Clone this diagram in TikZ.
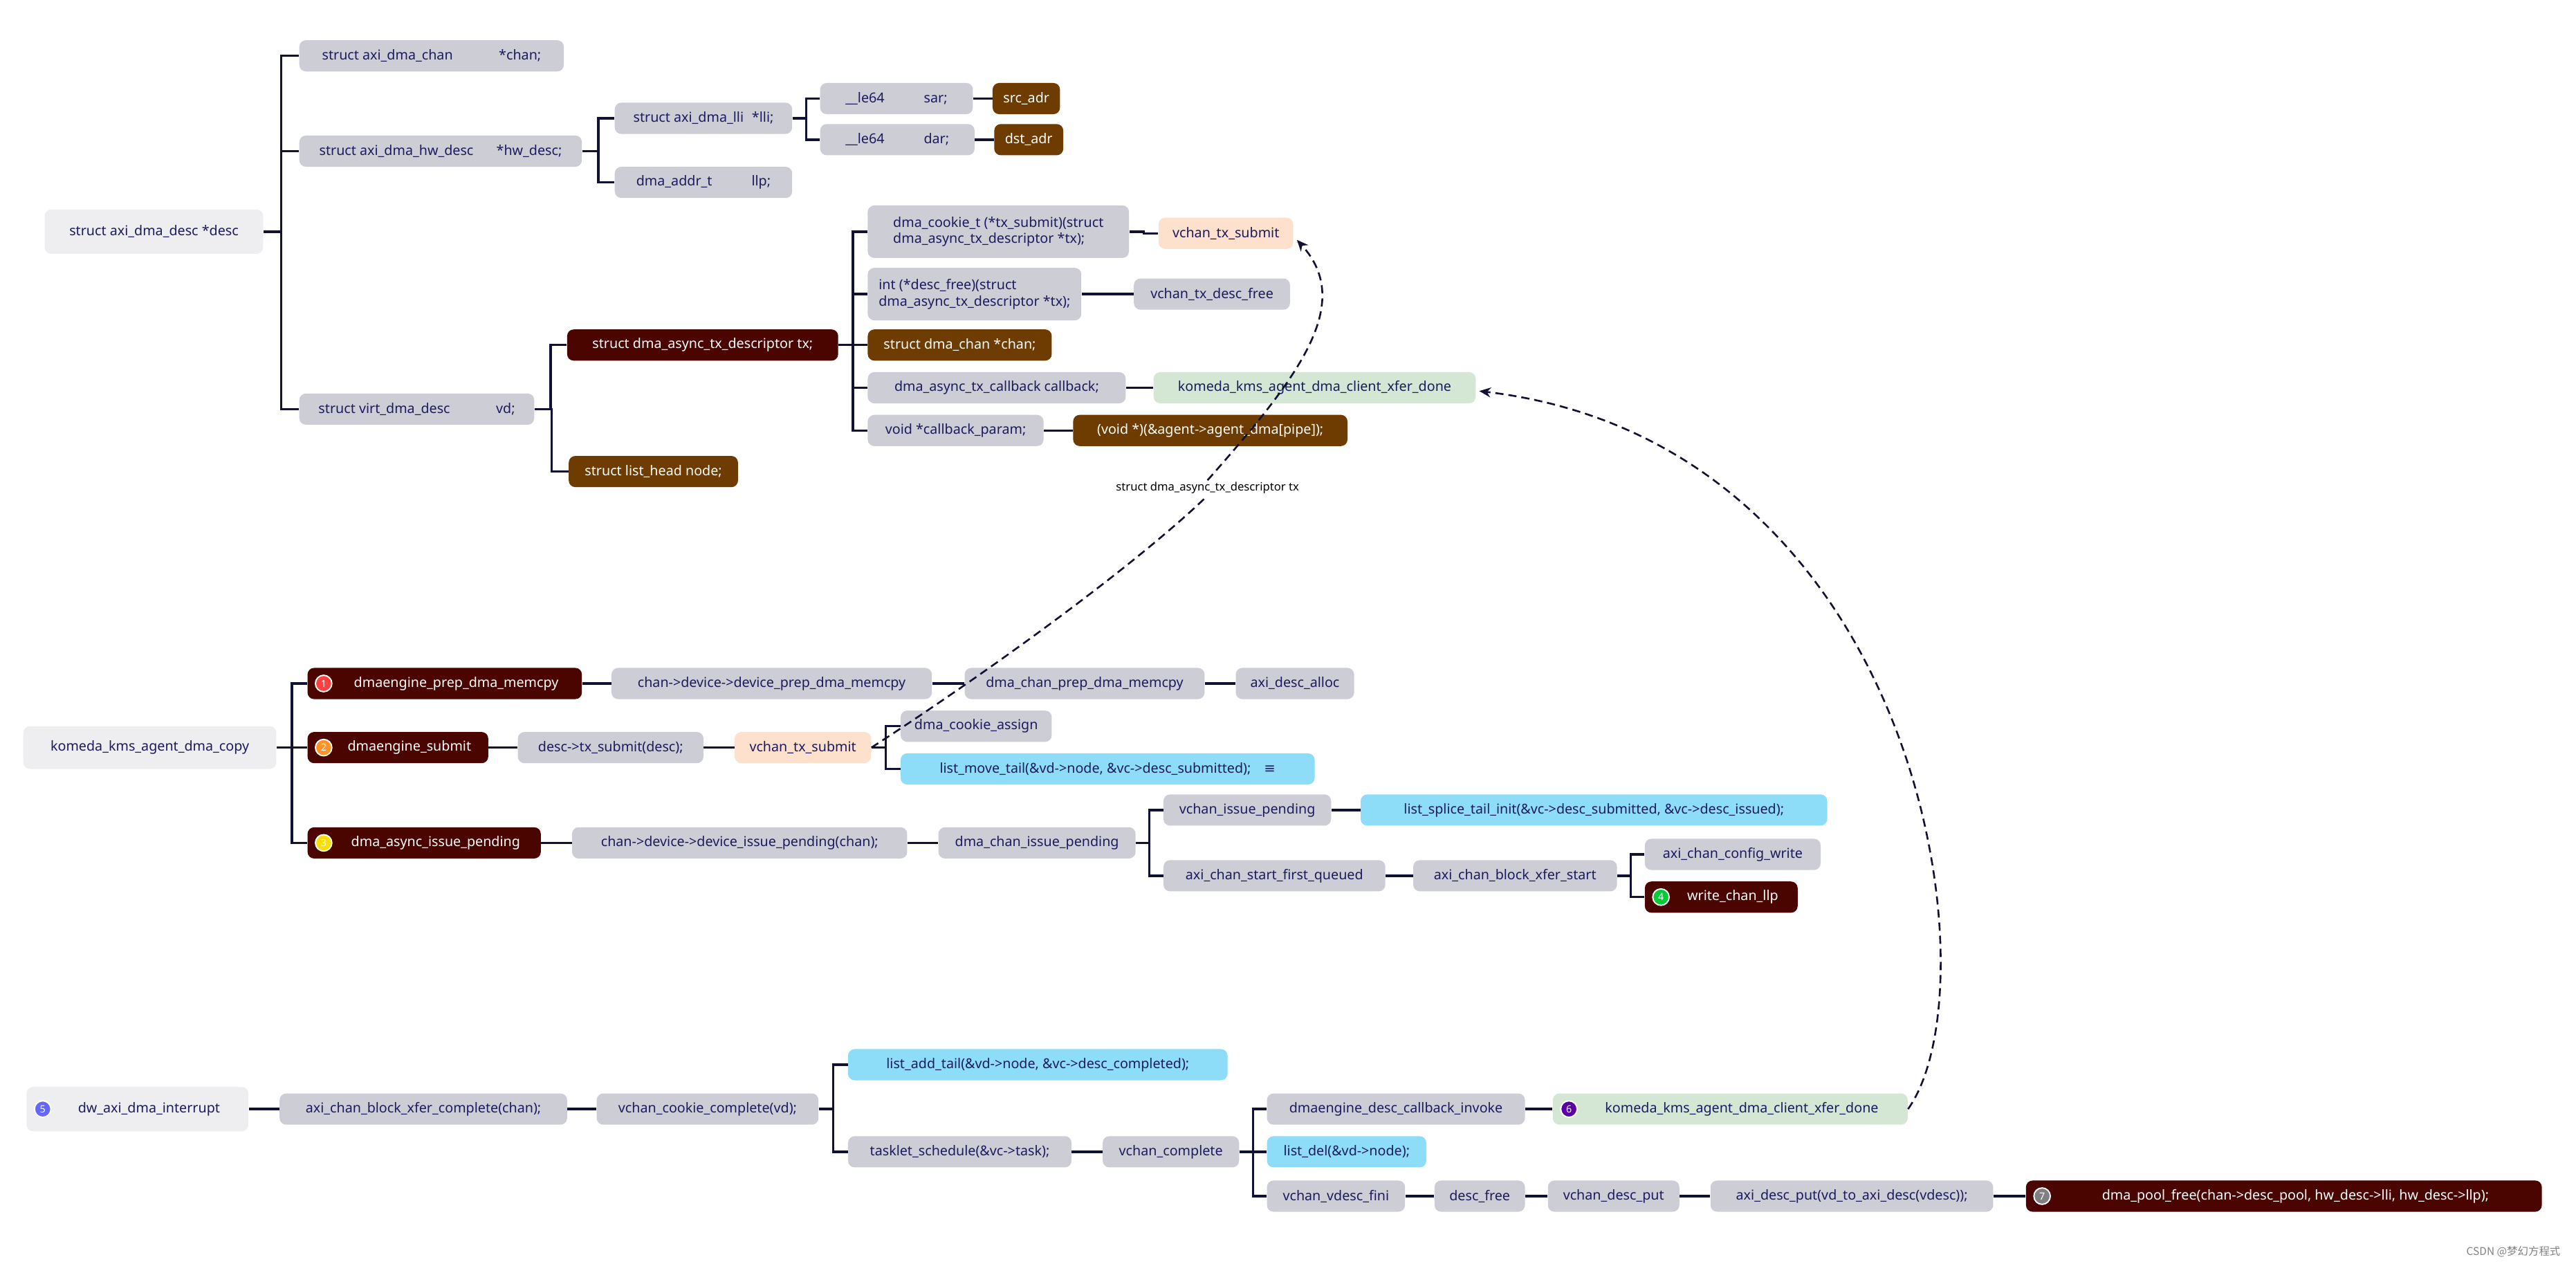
\documentclass[tikz,border=0pt]{standalone}
\usepackage{fontspec}
\setmainfont{Noto Sans}
\newfontfamily\cjkf{Noto Sans CJK SC}
\newfontfamily\djf{DejaVu Sans}
\usetikzlibrary{calc,arrows.meta}
\definecolor{txt}{HTML}{1B1B5E}
\definecolor{lnc}{HTML}{111133}
\definecolor{grayb}{HTML}{CDCDD6}
\definecolor{lightb}{HTML}{EEEDF0}
\definecolor{maroon}{HTML}{4A0500}
\definecolor{brownb}{HTML}{6E3B00}
\definecolor{peach}{HTML}{FEE1CC}
\definecolor{greenb}{HTML}{D3E7D4}
\definecolor{blueb}{HTML}{8DDDF8}
\newcommand\fs{\fontsize{8.3}{10}\selectfont}
\newcommand\tr[2]{\draw[ln] (#1.east) -- ($(#1.east)!.5!(#1.east-|#2.west)$) |- (#2.west);}
\newcommand\cn[3]{\node[circle,fill=#2,draw=white,line width=0.8,inner sep=0,minimum size=10,text=white,font=\fontsize{6}{6}\selectfont\bfseries] at ($(#1.west)+(10,0)$) {#3};}
\begin{document}
\begin{tikzpicture}[x=1pt,y=-1pt,
 base/.style={rounded corners=4,inner xsep=4,inner ysep=2,minimum height=19,anchor=west,font=\fs,text=txt},
 g/.style={base,fill=grayb},
 lt/.style={base,fill=lightb,minimum height=27},
 mr/.style={base,fill=maroon,text=white},
 br/.style={base,fill=brownb,text=white},
 pe/.style={base,fill=peach},
 gr/.style={base,fill=greenb},
 bl/.style={base,fill=blueb},
 ln/.style={draw=lnc,line width=1.4},
 dsh/.style={draw=lnc,line width=1.1,dashed,dash pattern=on 5 off 3,-{Stealth[length=7,width=6]}}]
\useasboundingbox (0,0) rectangle (1568,770.5);
% top tree
\node[lt,minimum width=133] (root) at (27,141) {struct axi\_dma\_desc *desc};
\node[g,minimum width=161] (chan) at (182,34) {struct axi\_dma\_chan\hspace{28pt}*chan;};
\node[g,minimum width=172] (hw) at (182,92) {struct axi\_dma\_hw\_desc\hspace{14pt}*hw\_desc;};
\node[g,minimum width=143] (vd) at (182,249) {struct virt\_dma\_desc\hspace{28pt}vd;};
\node[g,minimum width=108] (lli) at (374,72) {struct axi\_dma\_lli\hspace{5pt}*lli;};
\node[g,minimum width=108] (llp) at (374,111) {dma\_addr\_t\hspace{24pt}llp;};
\node[g,minimum width=93] (sar) at (499,60) {\_\_le64\hspace{24pt}sar;};
\node[g,minimum width=94] (dar) at (499,85) {\_\_le64\hspace{24pt}dar;};
\node[br,minimum width=41] (src) at (604,60) {src\_adr};
\node[br,minimum width=42] (dst) at (605,85) {dst\_adr};
\node[mr,minimum width=165] (tx) at (345,210) {struct dma\_async\_tx\_descriptor tx;};
\node[br,minimum width=103] (lhn) at (346,287) {struct list\_head node;};
\node[g,minimum width=159,minimum height=32,align=left] (txsub) at (528,141) {dma\_cookie\_t (*tx\_submit)(struct\\dma\_async\_tx\_descriptor *tx);};
\node[pe,minimum width=82] (vts) at (705,142) {vchan\_tx\_submit};
\node[g,minimum width=130,minimum height=32,align=left] (dfree) at (528,179) {int (*desc\_free)(struct\\dma\_async\_tx\_descriptor *tx);};
\node[g,minimum width=95] (vtdf) at (690,179) {vchan\_tx\_desc\_free};
\node[br,minimum width=112] (dchan) at (528,210) {struct dma\_chan *chan;};
\node[g,minimum width=157] (cb) at (528,236) {dma\_async\_tx\_callback callback;};
\node[gr,minimum width=196] (kdone) at (702,236) {komeda\_kms\_agent\_dma\_client\_xfer\_done};
\node[g,minimum width=107] (cbp) at (528,262) {void *callback\_param;};
\node[br,minimum width=167] (agent) at (653,262) {(void *)(\&agent->agent\_dma[pipe]);};
\tr{root}{chan}\tr{root}{hw}\tr{root}{vd}
\tr{hw}{lli}\tr{hw}{llp}\tr{lli}{sar}\tr{lli}{dar}\tr{sar}{src}\tr{dar}{dst}
\tr{vd}{tx}\tr{vd}{lhn}
\tr{tx}{txsub}\tr{tx}{dfree}\tr{tx}{dchan}\tr{tx}{cb}\tr{tx}{cbp}
\tr{txsub}{vts}\tr{dfree}{vtdf}\tr{cb}{kdone}\tr{cbp}{agent}
% middle
\node[lt,minimum width=154,minimum height=26] (copy) at (14,455) {komeda\_kms\_agent\_dma\_copy};
\node[mr,minimum width=167] (s1) at (187,416) {\hspace{14pt}dmaengine\_prep\_dma\_memcpy};
\node[mr,minimum width=110] (s2) at (187,455) {\hspace{14pt}dmaengine\_submit};
\node[mr,minimum width=142] (s3) at (187,513) {\hspace{14pt}dma\_async\_issue\_pending};
\cn{s1}{red!75!white}{1}\cn{s2}{orange!85!white}{2}\cn{s3}{yellow!80!orange}{3}
\node[g,minimum width=195] (a1) at (372,416) {chan->device->device\_prep\_dma\_memcpy};
\node[g,minimum width=146] (a2) at (587,416) {dma\_chan\_prep\_dma\_memcpy};
\node[g,minimum width=72] (a3) at (752,416) {axi\_desc\_alloc};
\node[g,minimum width=113] (b1) at (315,455) {desc->tx\_submit(desc);};
\node[pe,minimum width=83] (b2) at (447,455) {vchan\_tx\_submit};
\node[g,minimum width=92] (b3) at (548,442) {dma\_cookie\_assign};
\node[bl,minimum width=252] (b4) at (548,468) {list\_move\_tail(\&vd->node, \&vc->desc\_submitted);\hspace{8pt}{\djf ≡}};
\node[g,minimum width=204] (c1) at (348,513) {chan->device->device\_issue\_pending(chan);};
\node[g,minimum width=120] (c2) at (571,513) {dma\_chan\_issue\_pending};
\node[g,minimum width=102] (c3) at (708,493) {vchan\_issue\_pending};
\node[bl,minimum width=284] (c4) at (828,493) {list\_splice\_tail\_init(\&vc->desc\_submitted, \&vc->desc\_issued);};
\node[g,minimum width=135] (c5) at (708,533) {axi\_chan\_start\_first\_queued};
\node[g,minimum width=124] (c6) at (860,533) {axi\_chan\_block\_xfer\_start};
\node[g,minimum width=107] (c7) at (1001,520) {axi\_chan\_config\_write};
\node[mr,minimum width=93] (c8) at (1001,546) {\hspace{14pt}write\_chan\_llp};
\cn{c8}{green!60!teal}{4}
\tr{copy}{s1}\tr{copy}{s2}\tr{copy}{s3}
\tr{s1}{a1}\tr{a1}{a2}\tr{a2}{a3}
\tr{s2}{b1}\tr{b1}{b2}\tr{b2}{b3}\tr{b2}{b4}
\tr{s3}{c1}\tr{c1}{c2}\tr{c2}{c3}\tr{c2}{c5}\tr{c3}{c4}\tr{c5}{c6}\tr{c6}{c7}\tr{c6}{c8}
% bottom
\node[lt,minimum width=135] (intr) at (16,675) {\hspace{14pt}dw\_axi\_dma\_interrupt};
\cn{intr}{blue!60!white}{5}
\node[g,minimum width=175] (d1) at (170,675) {axi\_chan\_block\_xfer\_complete(chan);};
\node[g,minimum width=135] (d2) at (363,675) {vchan\_cookie\_complete(vd);};
\node[bl,minimum width=231] (d3) at (516,648) {list\_add\_tail(\&vd->node, \&vc->desc\_completed);};
\node[g,minimum width=136] (d4) at (516,701) {tasklet\_schedule(\&vc->task);};
\node[g,minimum width=83] (d5) at (671,701) {vchan\_complete};
\node[g,minimum width=157] (d6) at (771,675) {dmaengine\_desc\_callback\_invoke};
\node[gr,minimum width=216] (d7) at (945,675) {\hspace{14pt}komeda\_kms\_agent\_dma\_client\_xfer\_done};
\cn{d7}{violet!70!blue}{6}
\node[bl,minimum width=97] (d8) at (771,701) {list\_del(\&vd->node);};
\node[g,minimum width=84] (d9) at (771,728) {vchan\_vdesc\_fini};
\node[g,minimum width=55] (d10) at (873,728) {desc\_free};
\node[g,minimum width=80] (d11) at (942,728) {vchan\_desc\_put};
\node[g,minimum width=172] (d12) at (1041,728) {axi\_desc\_put(vd\_to\_axi\_desc(vdesc));};
\node[mr,minimum width=314] (d13) at (1233,728) {\hspace{14pt}dma\_pool\_free(chan->desc\_pool, hw\_desc->lli, hw\_desc->llp);};
\cn{d13}{gray}{7}
\tr{intr}{d1}\tr{d1}{d2}\tr{d2}{d3}\tr{d2}{d4}\tr{d4}{d5}
\tr{d5}{d6}\tr{d5}{d8}\tr{d5}{d9}\tr{d6}{d7}
\tr{d9}{d10}\tr{d10}{d11}\tr{d11}{d12}\tr{d12}{d13}
% dashed links
\node[font=\fontsize{7}{8}\selectfont,text=black,fill=white,inner sep=1] (lbl) at (735,297) {struct dma\_async\_tx\_descriptor tx};
\draw[draw=lnc,line width=1.1,dashed,dash pattern=on 5 off 3] (b2.east) .. controls (600,410) and (690,345) .. (lbl.south);
\draw[dsh] (lbl.north) .. controls (790,230) and (825,185) .. ($(vts.east)+(2,4)$);
\draw[dsh] (d7.east) .. controls (1215,600) and (1170,270) .. ($(kdone.east)+(2,2)$);
\node[anchor=east,font=\fontsize{6.5}{7}\selectfont\cjkf,text=gray] (wm) at (1562,762) {CSDN @梦幻方程式};
\end{tikzpicture}
\end{document}
